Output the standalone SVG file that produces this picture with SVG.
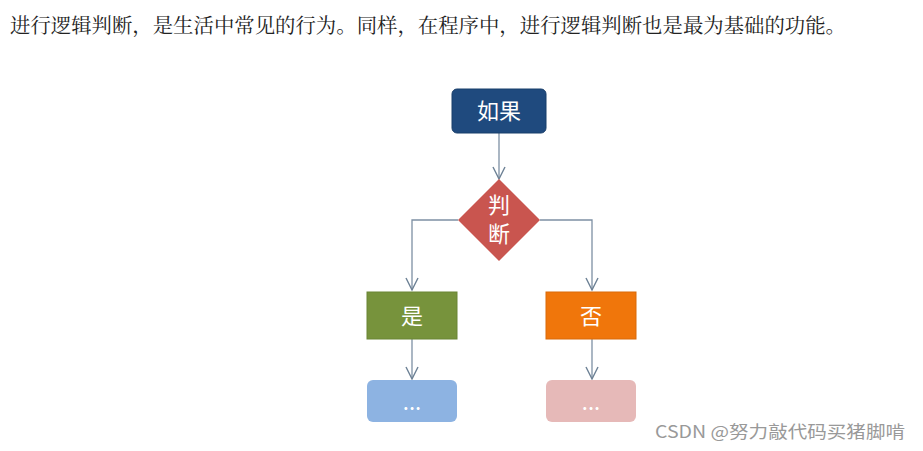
<svg xmlns="http://www.w3.org/2000/svg" width="923" height="451" viewBox="0 0 923 451">
<defs>
<marker id="arr" markerWidth="12" markerHeight="12" refX="10" refY="5" orient="auto" markerUnits="userSpaceOnUse" viewBox="0 0 10 10" overflow="visible">
<path d="M0,0 L10,5 L0,10" fill="none" stroke="#6e8296" stroke-width="1.2"/>
</marker>
<style>
.t{font-family:"Noto Sans CJK SC","Noto Sans",sans-serif;fill:#fff;font-size:22px;text-anchor:middle}
.c{fill:none;stroke:#7d90a4;stroke-width:1.3}
</style>
</defs>
<rect width="923" height="451" fill="#fff"/>
<text x="10" y="33" font-family="'Noto Serif CJK SC','Noto Sans CJK SC',serif" font-size="20" fill="#222" textLength="836" lengthAdjust="spacingAndGlyphs">进行逻辑判断，是生活中常见的行为。同样，在程序中，进行逻辑判断也是最为基础的功能。</text>
<g id="connectors">
<path class="c" d="M499,133 V179" marker-end="url(#arr)"/>
<path class="c" d="M458,220 H412 V290" marker-end="url(#arr)"/>
<path class="c" d="M540,220 H592 V290" marker-end="url(#arr)"/>
<path class="c" d="M412,339 V379" marker-end="url(#arr)"/>
<path class="c" d="M592,339 V379" marker-end="url(#arr)"/>
</g>
<g id="ruguo">
<rect x="452" y="89" width="94" height="44" rx="5" fill="#1f4a7e" stroke="#193e6a"/>
<text class="t" x="499" y="119">如果</text>
</g>
<g id="panduan">
<polygon points="499,179 540,220 499,261 458,220" fill="#c9554f"/>
<text class="t" x="499" y="213" font-size="19">判</text>
<text class="t" x="499" y="242" font-size="19">断</text>
</g>
<g id="shi">
<rect x="367" y="292" width="90" height="47" fill="#77933c" stroke="#6a8535"/>
<text class="t" x="412" y="324">是</text>
</g>
<g id="fou">
<rect x="546" y="292" width="90" height="47" fill="#f0760b" stroke="#d96a0a"/>
<text class="t" x="591" y="324">否</text>
</g>
<g id="dots1">
<rect x="367" y="380" width="90" height="42" rx="6" fill="#8db3e2"/>
<text class="t" x="412" y="410" font-size="16">...</text>
</g>
<g id="dots2">
<rect x="546" y="380" width="90" height="42" rx="6" fill="#e6b9b8"/>
<text class="t" x="591" y="410" font-size="16">...</text>
</g>
<text x="655" y="438" font-family="'Noto Sans CJK SC',sans-serif" font-size="17" fill="#999" textLength="250" lengthAdjust="spacingAndGlyphs">CSDN @努力敲代码买猪脚啃</text>
</svg>
